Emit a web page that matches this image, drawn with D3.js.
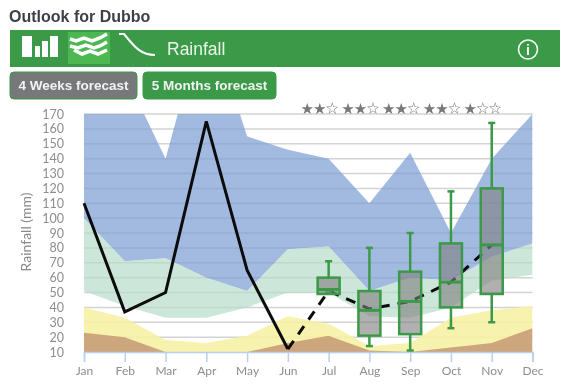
<!DOCTYPE html>
<html>
<head>
<meta charset="utf-8">
<script src="https://cdnjs.cloudflare.com/ajax/libs/d3/7.8.5/d3.min.js"></script>
<style>
  body { margin: 0; background: #fff; }
  svg { display: block; font-family: "Liberation Sans", Arial, sans-serif; filter: blur(0.45px); }
</style>
</head>
<body>
<div id="chart"></div>
<script>
const months = ['Jan', 'Feb', 'Mar', 'Apr', 'May', 'Jun', 'Jul', 'Aug', 'Sep', 'Oct', 'Nov', 'Dec'];
const yTicks = [10, 20, 30, 40, 50, 60, 70, 80, 90, 100, 110, 120, 130, 140, 150, 160, 170];

// decile bands, bottom to top
const blueTop = [240, 197, 140, 240, 155, 146, 140, 110, 144, 90, 140, 170];
const blueBottom = [100, 71, 73, 60, 51, 79, 81, 51, 60, 58, 74, 83];
const greenBottom = [51, 41, 33, 33, 40, 50, 50, 34, 33, 40, 58, 62];
const yellowTop = [40, 33, 18, 16, 21, 34, 29, 14, 16, 33, 38, 41];
const brownTop = [23, 20, 10, 10, 10, 16, 21, 11, 10, 13, 16, 26];

const observedMonths = ['Jan', 'Feb', 'Mar', 'Apr', 'May', 'Jun'];
const observed = [110, 37, 50, 165, 65, 12];
const forecastMonths = ['Jun', 'Jul', 'Aug', 'Sep', 'Oct', 'Nov'];
const forecast = [12, 51, 39, 44, 57, 82];

const boxMonths = ['Jul', 'Aug', 'Sep', 'Oct', 'Nov'];
const boxLow = [50, 14, 11, 26, 30];
const boxQ1 = [49, 21, 22, 40, 49];
const boxMedian = [52, 38, 44, 57, 82];
const boxQ3 = [60, 51, 64, 83, 120];
const boxHigh = [71, 80, 90, 118, 164];
const stars = ['★★☆', '★★☆', '★★☆', '★★☆', '★☆☆'];

const GREEN = '#3b9a47';
const width = 571, height = 385;
const svg = d3.select('#chart').append('svg').attr('width', width).attr('height', height);

const x = d3.scalePoint().domain(months).range([84, 532.5]);
const y = d3.scaleLinear().domain([10, 170]).range([352, 114]);

// header
svg.append('text').attr('x', 9).attr('y', 22).attr('font-size', 16).attr('font-weight', 'bold')
  .attr('fill', '#3d4048').text('Outlook for Dubbo');
svg.append('rect').attr('x', 10).attr('y', 30).attr('width', 550).attr('height', 37).attr('fill', GREEN);
svg.append('rect').attr('x', 68).attr('y', 32).attr('width', 42).attr('height', 32).attr('fill', '#4db852');

// bar icon
const icon = svg.append('g').attr('fill', '#fff');
[[22, 36, 10, 21], [35, 46, 5, 11], [42, 41, 6, 16], [50, 36, 8, 21]].forEach(d => {
  icon.append('rect').attr('x', d[0]).attr('y', d[1]).attr('width', d[2]).attr('height', d[3]);
});
// wave icon
['M70 39 L76 41 L84 38 L92 41 L100 38 L107 34', 'M70 46 L78 48 L86 45 L94 48 L100 46 L107 42', 'M74 50 L82 54 L90 51 L98 54 L107 50'].forEach(d => {
  svg.append('path').attr('d', d).attr('fill', 'none').attr('stroke', '#fff').attr('stroke-width', 3.5);
});
// curve icon
svg.append('path').attr('d', 'M119 34 L124 34 C134 46 140 55 155 55').attr('fill', 'none')
  .attr('stroke', '#fff').attr('stroke-width', 2);
svg.append('text').attr('x', 167).attr('y', 55).attr('font-size', 17.5).attr('fill', '#eaf5ea').text('Rainfall');

// info icon
svg.append('circle').attr('cx', 528).attr('cy', 49.5).attr('r', 9.5).attr('fill', 'none').attr('stroke', '#fff').attr('stroke-width', 1.6);
svg.append('text').attr('x', 528).attr('y', 55).attr('text-anchor', 'middle').attr('font-size', 14).attr('font-weight', 'bold')
  .attr('fill', '#fff').text('i');

// buttons
const buttons = [
  { x: 10, w: 127, fill: '#77787a', stroke: GREEN, label: '4 Weeks forecast' },
  { x: 143, w: 133, fill: GREEN, stroke: GREEN, label: '5 Months forecast' }
];
buttons.forEach(b => {
  svg.append('rect').attr('x', b.x).attr('y', 72).attr('width', b.w).attr('height', 27).attr('rx', 4)
    .attr('fill', b.fill).attr('stroke', b.stroke).attr('stroke-width', 1);
  svg.append('text').attr('x', b.x + b.w / 2).attr('y', 90).attr('text-anchor', 'middle').attr('font-size', 13.5)
    .attr('font-weight', 'bold').attr('fill', '#f2f2f2').text(b.label);
});

// grid under the bands
svg.append('g').selectAll('line').data(yTicks).enter().append('line')
  .attr('x1', x.range()[0]).attr('x2', x.range()[1])
  .attr('y1', d => y(d)).attr('y2', d => y(d))
  .attr('stroke', '#d2d3d3').attr('stroke-width', 1.5);

svg.append('clipPath').attr('id', 'plot').append('rect')
  .attr('x', x.range()[0]).attr('y', y(170)).attr('width', x.range()[1] - x.range()[0]).attr('height', y(10) - y(170));

const area = (lo, hi) => d3.area().x((d, i) => x(months[i])).y0((d, i) => y(lo[i])).y1((d, i) => y(hi[i]))(months);
const floor = months.map(() => 10);
const bands = svg.append('g').attr('clip-path', 'url(#plot)');
bands.append('path').attr('d', area(blueBottom, blueTop)).attr('fill', '#7f9fd4').attr('opacity', 0.72);
bands.append('path').attr('d', area(greenBottom, blueBottom)).attr('fill', '#b4dcc8').attr('opacity', 0.68);
bands.append('path').attr('d', area(floor, yellowTop)).attr('fill', '#f7f1a6').attr('opacity', 0.9);
bands.append('path').attr('d', area(floor, brownTop)).attr('fill', '#c99f78').attr('opacity', 0.92);

// axes
const yAxis = svg.append('g').attr('transform', `translate(${x.range()[0]},0)`)
  .call(d3.axisLeft(y).tickValues(yTicks).tickSize(0).tickPadding(20));
yAxis.select('.domain').remove();
yAxis.selectAll('text').attr('font-size', 12.5).attr('fill', '#8b8d90').attr('font-family', 'Lato, sans-serif');

const xAxis = svg.append('g').attr('transform', `translate(0,${y(10)})`)
  .call(d3.axisBottom(x).tickSize(10).tickPadding(4));
xAxis.select('.domain').attr('stroke', '#bccfea').attr('stroke-width', 1.5);
xAxis.selectAll('line').attr('stroke', '#bccfea').attr('stroke-width', 1.5);
xAxis.selectAll('text').attr('font-size', 12).attr('fill', '#8b8d90').attr('font-family', 'Lato, sans-serif');

svg.append('text').attr('transform', 'translate(31,232) rotate(-90)').attr('text-anchor', 'middle')
  .attr('font-size', 14).attr('fill', '#85878a').attr('font-family', 'Lato, sans-serif').text('Rainfall (mm)');

// observed and forecast lines
const line = d3.line().x(d => x(d.m)).y(d => y(d.v));
svg.append('path').attr('d', line(observedMonths.map((m, i) => ({ m, v: observed[i] }))))
  .attr('fill', 'none').attr('stroke', '#0c0c0c').attr('stroke-width', 3);
svg.append('path').attr('d', line(forecastMonths.map((m, i) => ({ m, v: forecast[i] }))))
  .attr('fill', 'none').attr('stroke', '#0c0c0c').attr('stroke-width', 3).attr('stroke-dasharray', '10 8');

// box and whisker
const boxW = 22, capW = 7;
const boxes = svg.append('g').selectAll('g').data(boxMonths).enter().append('g');
boxes.append('line').attr('x1', d => x(d)).attr('x2', d => x(d))
  .attr('y1', (d, i) => y(boxHigh[i])).attr('y2', (d, i) => y(boxQ3[i]))
  .attr('stroke', GREEN).attr('stroke-width', 2.5);
boxes.append('line').attr('x1', d => x(d)).attr('x2', d => x(d))
  .attr('y1', (d, i) => y(boxQ1[i])).attr('y2', (d, i) => y(boxLow[i]))
  .attr('stroke', GREEN).attr('stroke-width', 2.5);
[boxHigh, boxLow].forEach(vals => {
  boxes.append('line').attr('x1', d => x(d) - capW / 2).attr('x2', d => x(d) + capW / 2)
    .attr('y1', (d, i) => y(vals[i])).attr('y2', (d, i) => y(vals[i]))
    .attr('stroke', GREEN).attr('stroke-width', 2.5);
});
boxes.append('rect').attr('x', d => x(d) - boxW / 2).attr('width', boxW)
  .attr('y', (d, i) => y(boxQ3[i])).attr('height', (d, i) => y(boxQ1[i]) - y(boxQ3[i]))
  .attr('fill', '#808080').attr('fill-opacity', 0.62).attr('stroke', GREEN).attr('stroke-width', 2.5);
boxes.append('line').attr('x1', d => x(d) - boxW / 2).attr('x2', d => x(d) + boxW / 2)
  .attr('y1', (d, i) => y(boxMedian[i])).attr('y2', (d, i) => y(boxMedian[i]))
  .attr('stroke', GREEN).attr('stroke-width', 3);

// confidence stars
svg.append('g').selectAll('text').data(boxMonths).enter().append('text')
  .attr('x', d => x(d) - 9)
  .attr('y', 113)
  .attr('text-anchor', 'middle').attr('font-size', 12.5).attr('fill', '#77787a')
  .attr('font-family', '"Noto Sans CJK SC", sans-serif')
  .text((d, i) => stars[i]);
</script>
</body>
</html>
